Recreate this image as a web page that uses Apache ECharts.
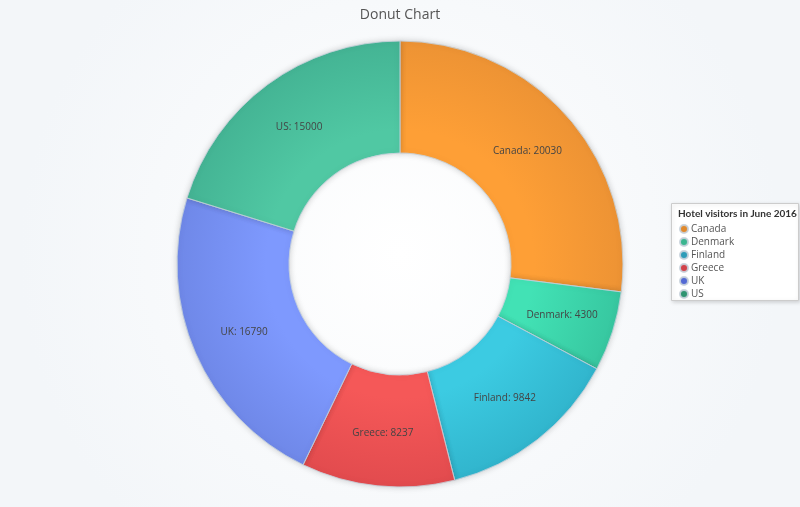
<!DOCTYPE html>
<html>
<head>
<meta charset="utf-8">
<script src="https://cdn.jsdelivr.net/npm/echarts@6/dist/echarts.min.js"></script>
<style>
  html, body { margin: 0; padding: 0; }
  #chart-container { width: 800px; height: 507px; }
</style>
</head>
<body>
<div id="chart-container"></div>
<script>
const countries = ['Canada', 'Denmark', 'Finland', 'Greece', 'UK', 'US']
const visitors = [20030, 4300, 9842, 8237, 16790, 15000]
// slice colours: light (inner edge of ring) / dark (outer edge), plus legend dot colour
const lightColors = ['#fe9f36', '#42e2b5', '#3ccbe2', '#f55858', '#7e99fe', '#50c8a3']
const darkColors = ['#ed9334', '#37c7a0', '#31b5cd', '#e24b4e', '#6f88e8', '#44b494']
const legendColors = ['#e0892c', '#3ab58f', '#2e9cb8', '#d2424a', '#5369d4', '#2f9471']

const cx = 400, cy = 264, outerR = 223

const myChart = echarts.init(document.getElementById('chart-container'))
const option = {
    backgroundColor: {
        type: 'radial', x: 0.5, y: 0.5, r: 0.75,
        colorStops: [
            { offset: 0, color: '#ffffff' },
            { offset: 1, color: '#f3f6f9' }
        ]
    },
    title: [
        {
            text: 'Donut Chart',
            left: 'center',
            top: 3,
            textStyle: { fontFamily: 'Open Sans', fontSize: 14, fontWeight: 'normal', color: '#555' }
        },
        {
            text: 'Hotel visitors in June 2016',
            left: 673,
            top: 204,
            textStyle: { fontFamily: 'Lato', fontSize: 10, fontWeight: 'bold', color: '#333' }
        }
    ],
    graphic: [
        {
            type: 'rect',
            left: 671,
            top: 203,
            z: -1,
            shape: { width: 127, height: 97 },
            style: {
                fill: '#fff', stroke: '#ccc', lineWidth: 1,
                shadowBlur: 4, shadowColor: 'rgba(0,0,0,0.15)', shadowOffsetX: 1, shadowOffsetY: 1
            }
        }
    ],
    legend: {
        orient: 'vertical',
        left: 674,
        top: 219,
        icon: 'circle',
        itemWidth: 8,
        itemHeight: 8,
        itemGap: 3,
        textStyle: { fontFamily: 'Open Sans', fontSize: 10, color: '#555', padding: [0, 0, 0, -2] },
        data: countries.map((c, i) => ({ name: c, itemStyle: { color: legendColors[i] } }))
    },
    series: [
        {
            name: 'Hotel visitors in June 2016',
            type: 'pie',
            center: [cx, cy],
            radius: [111, outerR],
            startAngle: 90,
            clockwise: true,
            label: {
                show: true,
                position: 'inner',
                formatter: '{b}: {c}',
                fontFamily: 'Open Sans',
                fontSize: 10,
                color: '#444'
            },
            labelLine: { show: false },
            data: countries.map((c, i) => ({
                name: c,
                value: visitors[i],
                itemStyle: {
                    color: {
                        type: 'radial', x: cx, y: cy, r: outerR, global: true,
                        colorStops: [
                            { offset: 0.5, color: lightColors[i] },
                            { offset: 0.6, color: lightColors[i] },
                            { offset: 1, color: darkColors[i] }
                        ]
                    },
                    borderColor: 'rgba(200,210,220,0.9)',
                    borderWidth: 0.6,
                    shadowBlur: 6,
                    shadowColor: 'rgba(0,0,0,0.18)'
                }
            })),
            emphasis: { scale: false }
        }
    ]
}
option && myChart.setOption(option)
</script>
</body>
</html>
